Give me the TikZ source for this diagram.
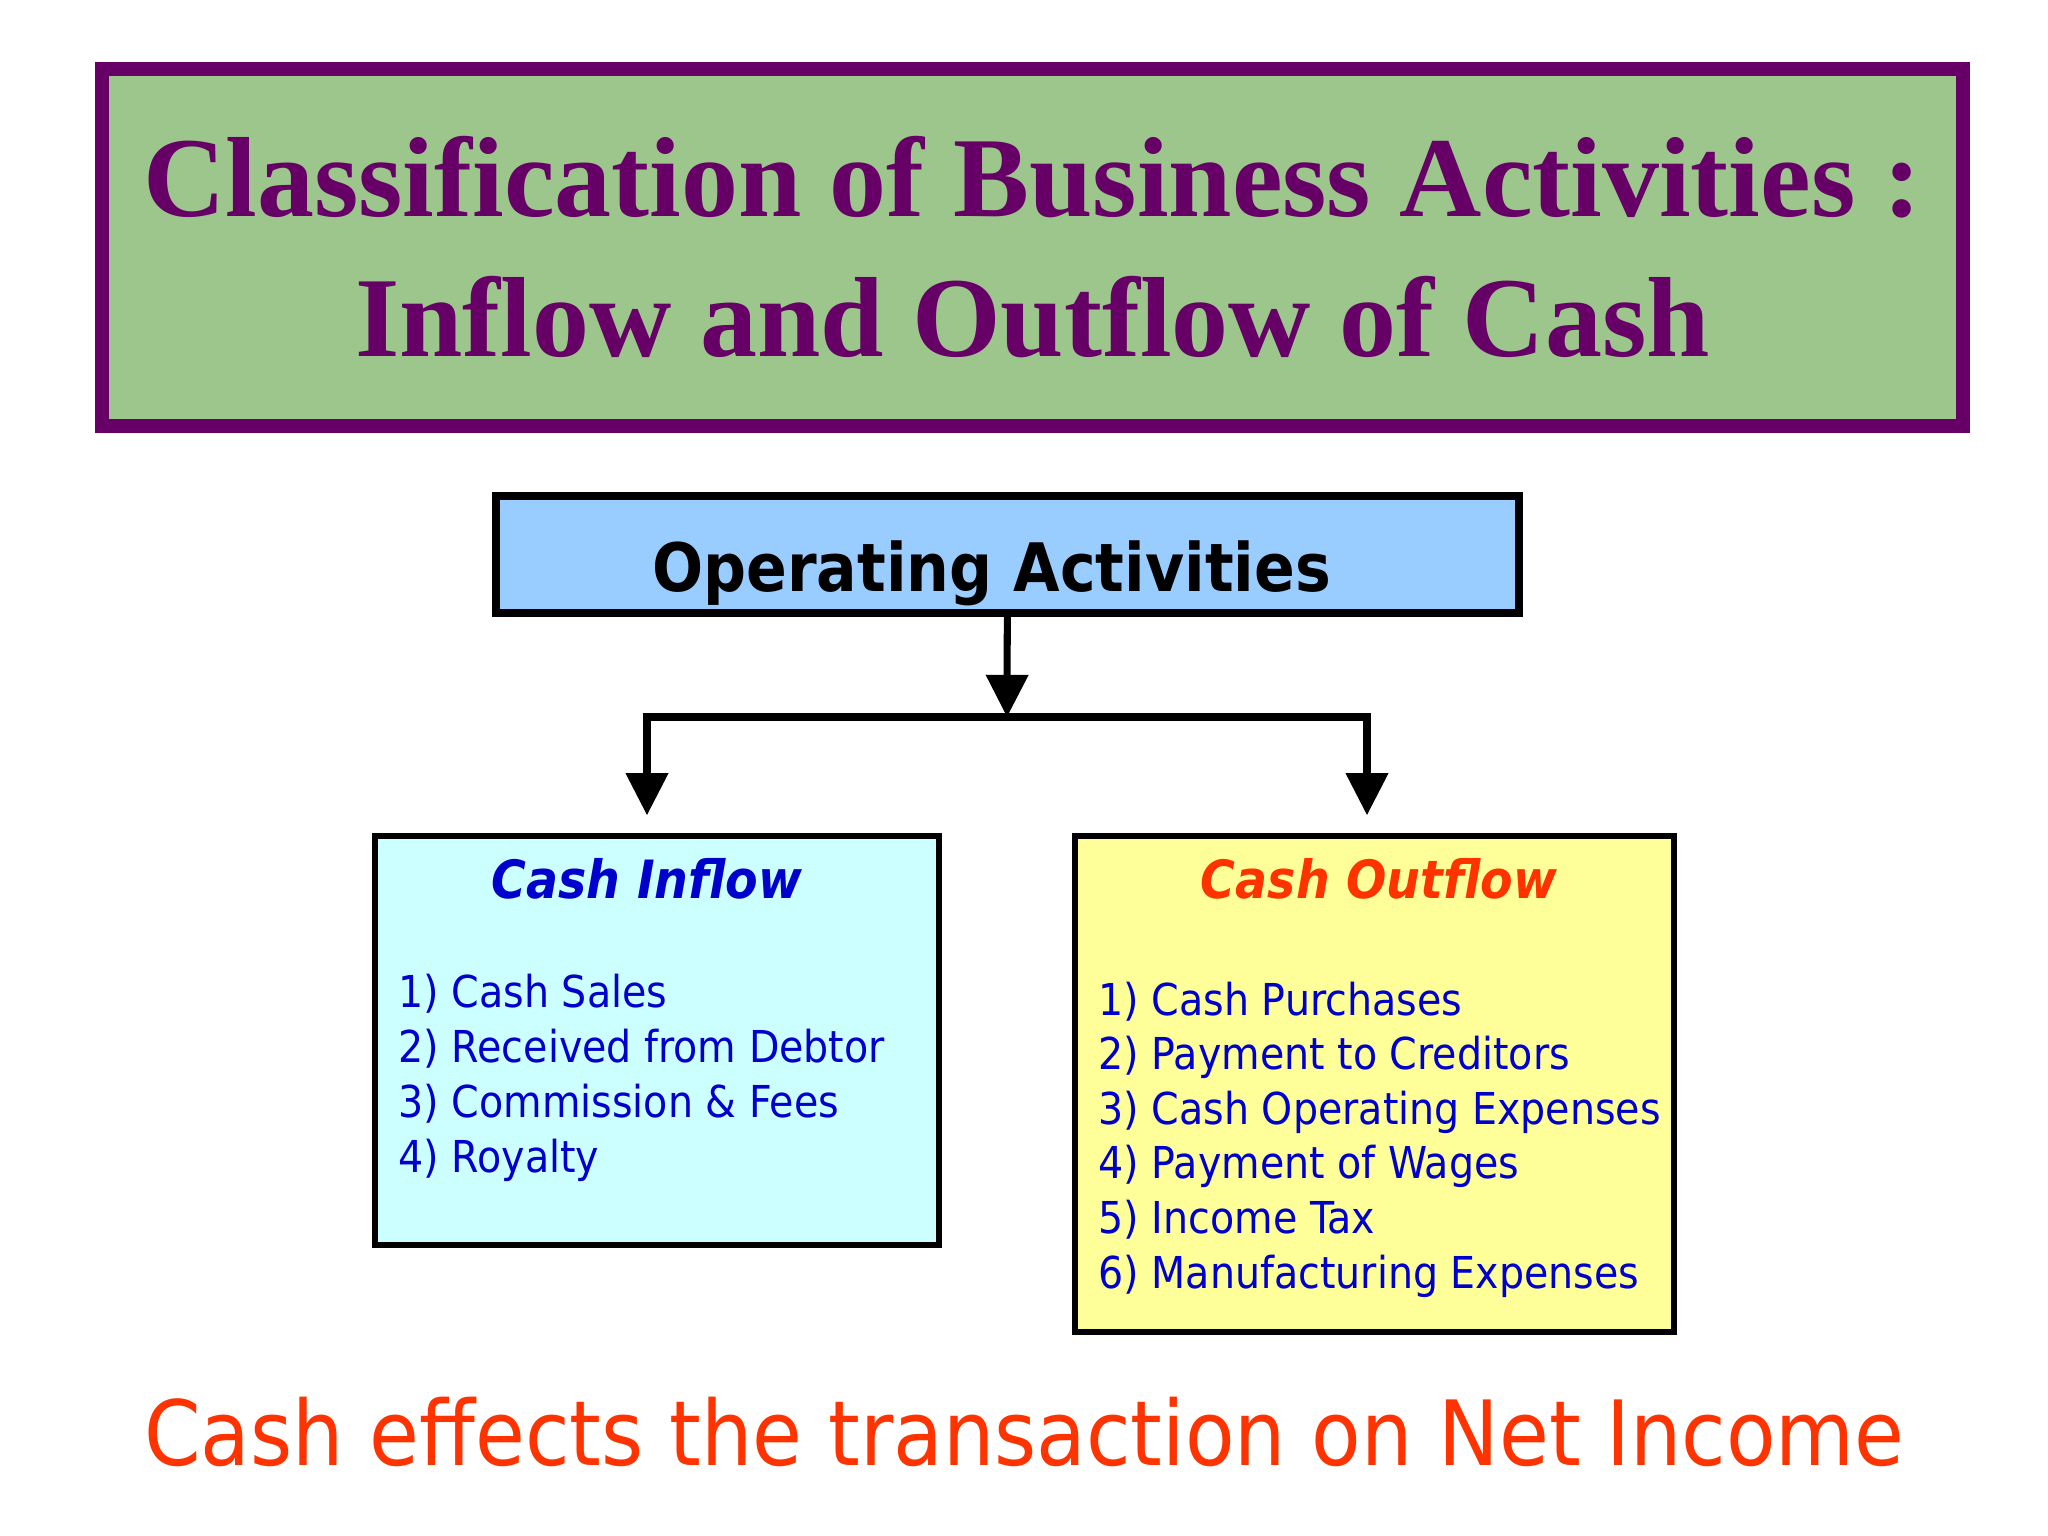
\documentclass[tikz,border=0pt]{standalone}
\usepackage{fontspec}
\usepackage{xcolor}
\usepackage{tikz}
\usetikzlibrary{arrows.meta}

\setmainfont{Liberation Serif}
\newfontfamily\tahoma[FakeStretch=0.9]{DejaVu Sans}

\definecolor{titlegreen}{RGB}{156,198,140}
\definecolor{plum}{RGB}{102,0,102}
\definecolor{skyblue}{RGB}{153,204,255}
\definecolor{paleaqua}{RGB}{204,255,255}
\definecolor{paleyellow}{RGB}{255,255,153}
\definecolor{itemblue}{RGB}{0,0,204}
\definecolor{alertred}{RGB}{255,51,0}

\tikzset{
	titlebox/.style={draw=plum, line width=4pt, fill=titlegreen, text=plum, align=center,
		font=\fontsize{32.4}{39.8}\selectfont\bfseries},
	opbox/.style={draw, line width=2.3pt, fill=skyblue, text height=21.3pt, text depth=0pt,
		font=\tahoma\fontsize{19}{23}\selectfont\bfseries},
	listbox/.style={draw, line width=1.7pt},
	head/.style={anchor=base, inner sep=0pt, font=\tahoma\fontsize{15}{18}\selectfont\bfseries\itshape},
	item/.style={anchor=base west, inner sep=0pt, text=itemblue, font=\tahoma\fontsize{12.5}{15}\selectfont},
	conn/.style={line width=2pt, -{Triangle[width=11.7pt,length=12pt]}},
}

\begin{document}
\begin{tikzpicture}[x=0.01cm, y=-0.01cm]
	\useasboundingbox (0,0) rectangle (2048,1536);
	% heading
	\node[titlebox, minimum width=18.59cm, minimum height=3.57cm] (title) at (1032.5,247.5)
		{Classification of Business Activities :\\Inflow and Outflow of Cash};
	% top box
	\node[opbox, minimum width=10.23cm, minimum height=1.17cm] (op) at (1007.5,554.5)
		{Operating Activities\kern9pt};
	% the two lists
	\node[listbox, fill=paleaqua, minimum width=5.64cm, minimum height=4.09cm] (inflow) at (657,1040.5) {};
	\node[listbox, fill=paleyellow, minimum width=5.99cm, minimum height=4.96cm] (outflow) at (1374.5,1084) {};
	\node[head, text=itemblue] (inhead) at (647,898) {Cash Inflow};
	\node[head, text=alertred] (outhead) at (1379,898) {Cash Outflow};
	\foreach \txt [count=\i] in {Cash Sales, Received from Debtor, Commission \& Fees, Royalty}
		\node[item] (in\i) at (398,{1007+55*(\i-1)}) {\i) \txt};
	\foreach \txt [count=\i] in {Cash Purchases, Payment to Creditors, Cash Operating Expenses,
			Payment of Wages, Income Tax, Manufacturing Expenses}
		\node[item] (out\i) at (1098,{1015+54.6*(\i-1)}) {\i) \txt};
	% arrows
	\coordinate (split) at (1007,717);
	\coordinate (lt) at (647,717);
	\coordinate (rt) at (1367,717);
	\draw[conn] (op) -- (split);
	\draw[conn, shorten >=5pt] (split) -- (lt) -- (lt |- inflow.north);
	\draw[conn, shorten >=5pt] (split) -- (rt) -- (rt |- outflow.north);
	% footer
	\node[anchor=base, text=alertred, font=\tahoma\fontsize{25.6}{30}\selectfont] (note) at (1024.5,1465)
		{Cash effects the transaction on Net Income};
\end{tikzpicture}
\end{document}
